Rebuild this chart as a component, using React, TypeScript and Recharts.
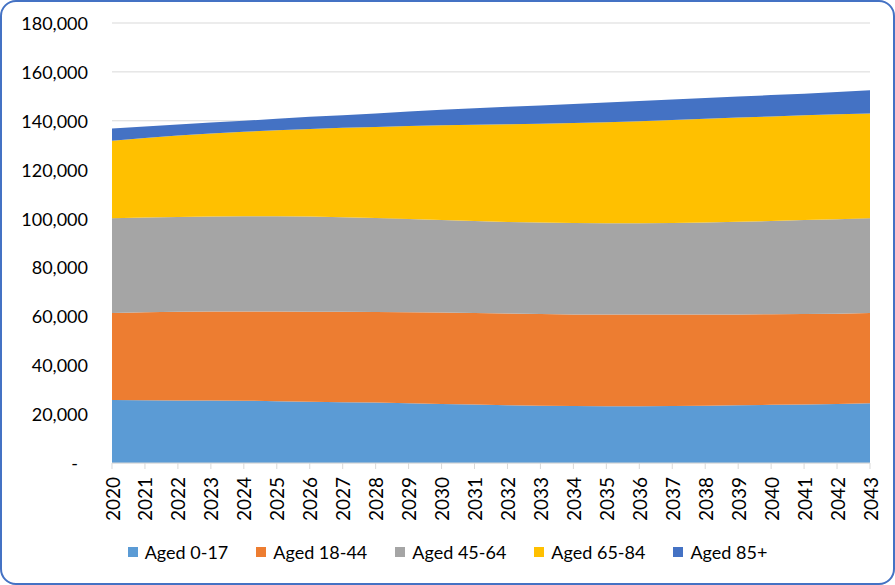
import { AreaChart, Area, XAxis, YAxis, CartesianGrid } from 'recharts'

const years = [
  '2020', '2021', '2022', '2023', '2024', '2025', '2026', '2027', '2028', '2029', '2030', '2031',
  '2032', '2033', '2034', '2035', '2036', '2037', '2038', '2039', '2040', '2041', '2042', '2043',
]

const aged0to17 = [
  25800, 25700, 25600, 25600, 25500, 25300, 25100, 24900, 24700, 24400, 24100, 23900,
  23600, 23400, 23300, 23200, 23200, 23300, 23400, 23600, 23800, 23900, 24100, 24400,
]
const aged18to44 = [
  35600, 36000, 36300, 36400, 36500, 36700, 36800, 37000, 37100, 37300, 37500, 37500,
  37600, 37600, 37500, 37500, 37500, 37400, 37300, 37200, 37100, 37100, 37000, 37000,
]
const aged45to64 = [
  38700, 38700, 38700, 38800, 38900, 38900, 38900, 38600, 38400, 38100, 37800, 37600,
  37400, 37400, 37400, 37400, 37400, 37500, 37700, 37900, 38100, 38400, 38600, 38700,
]
const aged65to84 = [
  31700, 32600, 33400, 34000, 34600, 35200, 35800, 36600, 37300, 38100, 38800, 39400,
  40000, 40400, 40900, 41300, 41700, 42100, 42400, 42600, 42800, 42900, 43000, 42900,
]
const aged85plus = [
  5000, 4700, 4500, 4500, 4500, 4700, 5000, 5200, 5500, 5900, 6300, 6700,
  7100, 7500, 7800, 8100, 8300, 8400, 8500, 8600, 8700, 8800, 9100, 9500,
]

const yTicks = [0, 20000, 40000, 60000, 80000, 100000, 120000, 140000, 160000, 180000]

const series = [
  { key: 'a0', name: 'Aged 0-17', color: '#5B9BD5', values: aged0to17 },
  { key: 'a18', name: 'Aged 18-44', color: '#ED7D31', values: aged18to44 },
  { key: 'a45', name: 'Aged 45-64', color: '#A5A5A5', values: aged45to64 },
  { key: 'a65', name: 'Aged 65-84', color: '#FFC000', values: aged65to84 },
  { key: 'a85', name: 'Aged 85+', color: '#4472C4', values: aged85plus },
]

const data = years.map((year, i) => {
  const row: Record<string, string | number> = { year }
  series.forEach((s) => {
    row[s.key] = s.values[i]
  })
  return row
})

const FONT = 'Lato, "Open Sans", sans-serif'

function YearTick(props: any) {
  const { x, y, payload } = props
  return (
    <text
      transform={`translate(${x},${y + 6}) rotate(-90)`}
      textAnchor="end"
      dominantBaseline="central"
      fontSize={19}
      fontFamily={FONT}
      fill="#000"
    >
      {payload.value}
    </text>
  )
}

function ValueTick(props: any) {
  const { x, y, payload } = props
  const v = payload.value as number
  return (
    <text
      x={v === 0 ? x - 10 : x}
      y={y}
      textAnchor="end"
      dominantBaseline="central"
      fontSize={18}
      fontFamily={FONT}
      fill="#000"
    >
      {v === 0 ? '-' : v.toLocaleString('en-US')}
    </text>
  )
}

export default function App() {
  return (
    <div style={{ position: 'fixed', left: 0, top: 0, width: 895, height: 585, background: '#fff' }}>
      <div
        style={{
          position: 'absolute',
          inset: 0,
          border: '2px solid #4472C4',
          borderRadius: 16,
          boxSizing: 'border-box',
        }}
      />
      <AreaChart width={895} height={585} data={data} margin={{ top: 23, right: 25, bottom: 52, left: 0 }}>
        <CartesianGrid vertical={false} stroke="#D9D9D9" />
        <XAxis
          dataKey="year"
          height={70}
          interval={0}
          axisLine={{ stroke: '#D9D9D9' }}
          tickLine={{ stroke: '#D9D9D9' }}
          tickSize={6}
          tick={<YearTick />}
        />
        <YAxis
          width={112}
          domain={[0, 180000]}
          ticks={yTicks}
          axisLine={false}
          tickLine={false}
          tickSize={0}
          tickMargin={24}
          tick={<ValueTick />}
        />
        {series.map((s) => (
          <Area
            key={s.key}
            type="linear"
            dataKey={s.key}
            name={s.name}
            stackId="1"
            stroke="none"
            fill={s.color}
            fillOpacity={1}
            isAnimationActive={false}
          />
        ))}
      </AreaChart>
      <div
        style={{
          position: 'absolute',
          left: 0,
          width: 895,
          top: 540,
          display: 'flex',
          justifyContent: 'center',
          gap: 28,
          fontFamily: FONT,
          fontSize: 18,
          lineHeight: '24px',
        }}
      >
        {series.map((s) => (
          <div key={s.key} style={{ display: 'flex', alignItems: 'center', gap: 7 }}>
            <span style={{ width: 10, height: 10, background: s.color, display: 'inline-block' }} />
            <span>{s.name}</span>
          </div>
        ))}
      </div>
    </div>
  )
}
